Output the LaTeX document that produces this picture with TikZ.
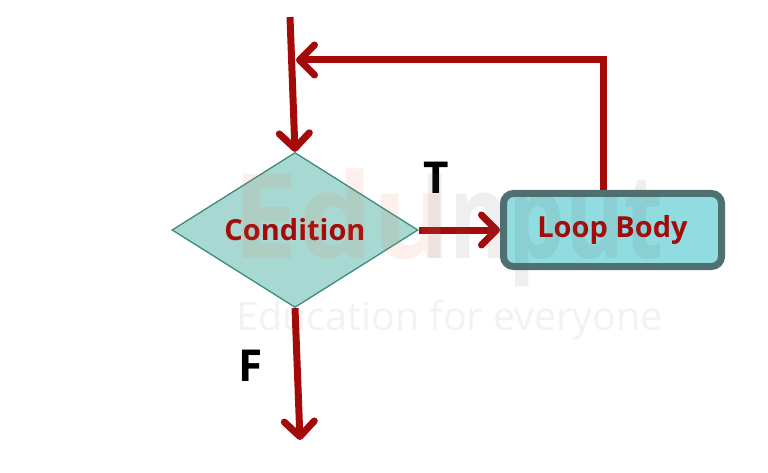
\documentclass[tikz,border=0pt]{standalone}
\usepackage{fontspec}
\setmainfont{Open Sans}
\usetikzlibrary{shapes.geometric,arrows.meta}
\definecolor{arrowred}{RGB}{165,10,10}
\definecolor{diafill}{RGB}{168,216,210}
\definecolor{diadraw}{RGB}{58,140,128}
\definecolor{boxfill}{RGB}{144,220,224}
\definecolor{boxdraw}{RGB}{78,112,112}
\definecolor{wmorange}{RGB}{235,110,70}
\tikzset{
  flow/.style={draw=arrowred, line width=7pt, -{Straight Barb[length=15pt,width=30pt,round]}},
  decision/.style={diamond, aspect=1.6, inner sep=0pt, minimum width=246pt, minimum height=155pt,
    fill=diafill, draw=diadraw, line width=1.3pt, font=\bfseries\fontsize{29}{32}\selectfont, text=arrowred},
  process/.style={rectangle, rounded corners=10pt, minimum width=218pt, minimum height=73pt,
    fill=boxfill, draw=boxdraw, line width=7pt, font=\bfseries\fontsize{29}{32}\selectfont, text=arrowred},
  branch/.style={font=\bfseries\fontsize{44}{48}\selectfont, text=black},
  wmark/.style={opacity=0.1, inner sep=0pt}
}
\begin{document}
\begin{tikzpicture}[x=1pt,y=1pt]
\useasboundingbox (0,0) rectangle (768,-473);
\node[decision] (cond) at (295,-230) {Condition};
\node[process] (body) at (612.5,-230) {Loop Body};
\coordinate (start) at (290,-17);
\coordinate (join) at (296,-60);
\coordinate (exit) at (300,-440);
\coordinate (bodytop) at ([xshift=-9.5pt]body.north);
\draw[flow] (start) -- (cond.north);
\draw[flow] (cond.east) -- (body.west);
\draw[flow] (bodytop) |- (join);
\draw[flow] (cond.south) -- (exit);
\node[branch] (tlab) at (436,-178) {T};
\node[branch] (flab) at (251,-366) {F};
% watermark (faint overlay)
\node[wmark, text=wmorange, font=\bfseries\fontsize{118}{120}\selectfont, anchor=base west] (wm1) at (232,-258) {Edu};
\node[wmark, text=black!60, font=\bfseries\fontsize{118}{120}\selectfont, anchor=base west, xscale=0.76, transform shape] (wm2) at (420,-258) {Input};
\node[wmark, opacity=0.05, text=black, font=\fontsize{39.5}{42}\selectfont, anchor=base west] (wm3) at (236,-330) {Education for everyone};
\end{tikzpicture}
\end{document}
